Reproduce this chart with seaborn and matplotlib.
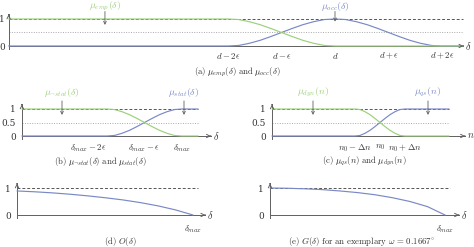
import numpy as np
import pandas as pd
import seaborn as sns
import matplotlib
matplotlib.use("Agg")
import matplotlib.pyplot as plt

sns.set_style("white")
plt.rcParams["mathtext.fontset"] = "cm"
plt.rcParams["font.family"] = ["DejaVu Serif"]

# ---------------- data ----------------
# (a) mu_emp and mu_occ over delta (d = 0, eps = 1)
a_x = [-6.1, -2.0, -1.8, -1.6, -1.4, -1.2, -1.0, -0.8, -0.6, -0.4, -0.2, 0.0,
       0.2, 0.4, 0.6, 0.8, 1.0, 1.2, 1.4, 1.6, 1.8, 2.0, 2.4]
a_emp = [1, 1, 0.98, 0.90, 0.79, 0.65, 0.50, 0.35, 0.21, 0.10, 0.02, 0,
         0, 0, 0, 0, 0, 0, 0, 0, 0, 0, 0]
a_occ = [0, 0, 0.02, 0.10, 0.21, 0.35, 0.50, 0.65, 0.79, 0.90, 0.98, 1,
         0.98, 0.90, 0.79, 0.65, 0.50, 0.35, 0.21, 0.10, 0.02, 0, 0]
a_ticks = [-2, -1, 0, 1, 2]
a_ticklabels = [r"$d-2\epsilon$", r"$d-\epsilon$", r"$d$", r"$d+\epsilon$", r"$d+2\epsilon$"]

# (b) mu_notstat and mu_stat (delta_max = 0, eps = 1)
b_x = [-4.27, -2.0, -1.8, -1.6, -1.4, -1.2, -1.0, -0.8, -0.6, -0.4, -0.2, 0.0, 0.43]
b_notstat = [1, 1, 0.98, 0.90, 0.79, 0.65, 0.50, 0.35, 0.21, 0.10, 0.02, 0, 0]
b_stat = [0, 0, 0.02, 0.10, 0.21, 0.35, 0.50, 0.65, 0.79, 0.90, 0.98, 1, 1]
b_ticks = [-2, -1, 0]
b_ticklabels = [r"$\delta_{max}-2\epsilon$", r"$\delta_{max}-\epsilon$", r"$\delta_{max}$"]

# (c) mu_dyn and mu_qs (n0 = 0, dn = 1)
c_x = [-4.32, -1.0, -0.8, -0.6, -0.4, -0.2, 0.0, 0.2, 0.4, 0.6, 0.8, 1.0, 2.76]
c_dyn = [1, 1, 0.98, 0.90, 0.79, 0.65, 0.50, 0.35, 0.21, 0.10, 0.02, 0, 0]
c_qs = [0, 0, 0.02, 0.10, 0.21, 0.35, 0.50, 0.65, 0.79, 0.90, 0.98, 1, 1]
c_ticks = [-1, 0, 1]
c_ticklabels = [r"$n_0-\Delta n$", r"$n_0$", r"$n_0+\Delta n$"]

# (d) O(delta), delta normalised to delta_max = 1
d_x = [0, 0.1, 0.2, 0.3, 0.4, 0.5, 0.6, 0.7, 0.8, 0.9, 1.0]
d_O = [0.89, 0.86, 0.82, 0.77, 0.71, 0.64, 0.56, 0.46, 0.34, 0.19, 0.0]

# (e) G(delta)
e_x = [0, 0.1, 0.2, 0.3, 0.4, 0.5, 0.6, 0.7, 0.8, 0.9, 1.0]
e_G = [1, 0.99, 0.97, 0.94, 0.89, 0.83, 0.75, 0.64, 0.50, 0.31, 0.0]

GREEN = "#9bd07a"
BLUE = "#7a89c6"
AX = "#606060"
TXT = "#333333"

W, H = 474, 247
fig = plt.figure(figsize=(W / 100, H / 100), dpi=100)


def make_ax(px, xv, py, yv):
    (pxa, pxb), (xa, xb) = px, xv
    sx = (xb - xa) / (pxb - pxa)
    (pya, pyb), (ya, yb) = py, yv
    sy = (yb - ya) / (pya - pyb)
    ax = fig.add_axes([0, 0, 1, 1])
    ax.set_xlim(xa - pxa * sx, xa + (W - pxa) * sx)
    ax.set_ylim(ya + (pya - H) * sy, ya + pya * sy)
    ax.patch.set_visible(False)
    return ax


def style(ax, x0, xend, ytop, xticks, xlabels, yticks, ylabels, xname, xpad, ypad=2.5):
    for s in ["top", "right"]:
        ax.spines[s].set_visible(False)
    ax.spines["left"].set_position(("data", x0))
    ax.spines["left"].set_bounds(-0.12, ytop)
    ax.spines["bottom"].set_position(("data", 0))
    ax.spines["bottom"].set_bounds(x0, xend)
    for s in ["left", "bottom"]:
        ax.spines[s].set_color(AX)
        ax.spines[s].set_linewidth(0.7)
    ax.set_xticks(xticks, xlabels)
    ax.set_yticks(yticks, ylabels)
    ax.tick_params(direction="inout", length=4, width=0.6, colors=AX,
                   labelcolor=TXT, labelsize=6.4)
    ax.tick_params(axis="x", pad=xpad)
    ax.tick_params(axis="y", pad=ypad)
    ax.annotate("", xy=(xend, 0), xytext=(xend - 1e-3, 0),
                arrowprops=dict(arrowstyle="->", color=AX, lw=0.7,
                                shrinkA=0, shrinkB=0, mutation_scale=6))
    ax.annotate("", xy=(x0, ytop), xytext=(x0, ytop - 1e-3),
                arrowprops=dict(arrowstyle="->", color=AX, lw=0.7,
                                shrinkA=0, shrinkB=0, mutation_scale=6))
    ax.annotate(xname, xy=(xend, 0), xytext=(1.5, 0), textcoords="offset points",
                va="center", ha="left", fontsize=7.2, color=TXT)


def hline(ax, x0, x1, y, ls, color, lw=0.7):
    ax.plot([x0, x1], [y, y], ls=ls, color=color, lw=lw, zorder=1)


def label(ax, x, text, color, ytext, yfrom, yto):
    ax.text(x, ytext, text, ha="center", va="center", color=color, fontsize=7)
    ax.annotate("", xy=(x, yto), xytext=(x, yfrom),
                arrowprops=dict(arrowstyle="->", color=AX, lw=0.6,
                                shrinkA=0, shrinkB=0, mutation_scale=5))


def curve(ax, x, y, color):
    sns.lineplot(x=x, y=y, ax=ax, color=color, lw=0.85, estimator=None,
                 sort=False, zorder=3)
    ax.lines[-1].set_clip_on(False)


# ---------- panel (a) ----------
ax = make_ax((228, 335), (-2, 0), (46, 19), (0, 1))
hline(ax, a_x[0], 2.4, 1, (0, (3, 2)), "#555555")
hline(ax, a_x[0], 2.4, 0.5, (0, (1, 1.5)), "#aaaaaa")
curve(ax, a_x, a_occ, BLUE)
curve(ax, a_x, a_emp, GREEN)
style(ax, a_x[0], 2.4, 1.17, a_ticks, a_ticklabels, [0, 1], ["0", "1"], r"$\delta$", 1.5, 0.8)
label(ax, -4.3, r"$\mu_{emp}(\delta)$", GREEN, 1.47, 1.28, 0.78)
label(ax, 0.0, r"$\mu_{occ}(\delta)$", BLUE, 1.47, 1.28, 0.9)

# ---------- panel (b) ----------
ax = make_ax((107, 182), (-2, 0), (136, 109), (0, 1))
hline(ax, b_x[0], b_x[-1], 1, (0, (3, 2)), "#555555")
hline(ax, b_x[0], b_x[-1], 0.5, (0, (1, 1.5)), "#aaaaaa")
curve(ax, b_x, b_stat, BLUE)
curve(ax, b_x, b_notstat, GREEN)
style(ax, b_x[0], 0.77, 1.17, b_ticks, b_ticklabels, [0, 0.5, 1], ["0", "0.5", "1"], r"$\delta$", 3)
tl = ax.get_xticklabels()
tl[0].set_horizontalalignment("right")
label(ax, (62 - 182) / 37.5, r"$\mu_{\neg stat}(\delta)$", GREEN, 1.6, 1.3, 0.78)
label(ax, (184 - 182) / 37.5, r"$\mu_{stat}(\delta)$", BLUE, 1.6, 1.3, 0.78)

# ---------- panel (c) ----------
ax = make_ax((355, 405), (-1, 1), (136, 109), (0, 1))
hline(ax, c_x[0], c_x[-1], 1, (0, (3, 2)), "#555555")
hline(ax, c_x[0], c_x[-1], 0.5, (0, (1, 1.5)), "#aaaaaa")
curve(ax, c_x, c_qs, BLUE)
curve(ax, c_x, c_dyn, GREEN)
style(ax, c_x[0], 3.4, 1.17, c_ticks, c_ticklabels, [0, 0.5, 1], ["0", "0.5", "1"], r"$n$", 3)
label(ax, (313 - 380) / 25, r"$\mu_{dyn}(n)$", GREEN, 1.6, 1.3, 0.78)
label(ax, (428 - 380) / 25, r"$\mu_{qs}(n)$", BLUE, 1.6, 1.3, 0.78)

# ---------- panel (d) ----------
ax = make_ax((17, 193), (0, 1), (215, 188), (0, 1))
hline(ax, 0, 1.03, 1, (0, (3, 2)), "#555555")
curve(ax, d_x, d_O, BLUE)
style(ax, 0, 1.07, 1.17, [1], [r"$\delta_{max}$"], [0, 1], ["0", "1"], r"$\delta$", 4)

# ---------- panel (e) ----------
ax = make_ax((270, 445), (0, 1), (215, 188), (0, 1))
hline(ax, 0, 1.03, 1, (0, (3, 2)), "#555555")
curve(ax, e_x, e_G, BLUE)
style(ax, 0, 1.08, 1.17, [1], [r"$\delta_{max}$"], [0, 1], ["0", "1"], r"$\delta$", 4)

# ---------- captions ----------
cap = dict(ha="center", va="center", fontsize=6.3, color=TXT)
fig.text(237 / W, 1 - 72 / H, r"$\mathrm{(a)}\ \mu_{emp}(\delta)\ \mathrm{and}\ \mu_{occ}(\delta)$", **cap)
fig.text(100 / W, 1 - 161 / H, r"$\mathrm{(b)}\ \mu_{\neg stat}(\delta)\ \mathrm{and}\ \mu_{stat}(\delta)$", **cap)
fig.text(364 / W, 1 - 161 / H, r"$\mathrm{(c)}\ \mu_{qs}(n)\ \mathrm{and}\ \mu_{dyn}(n)$", **cap)
fig.text(120 / W, 1 - 241 / H, r"$\mathrm{(d)}\ O(\delta)$", **cap)
fig.text(362 / W, 1 - 241 / H, r"$\mathrm{(e)}\ G(\delta)\ \mathrm{for\ an\ exemplary}\ \omega\,=\,0.1667^{\circ}$", **cap)

fig.savefig("out.png", dpi=100)
